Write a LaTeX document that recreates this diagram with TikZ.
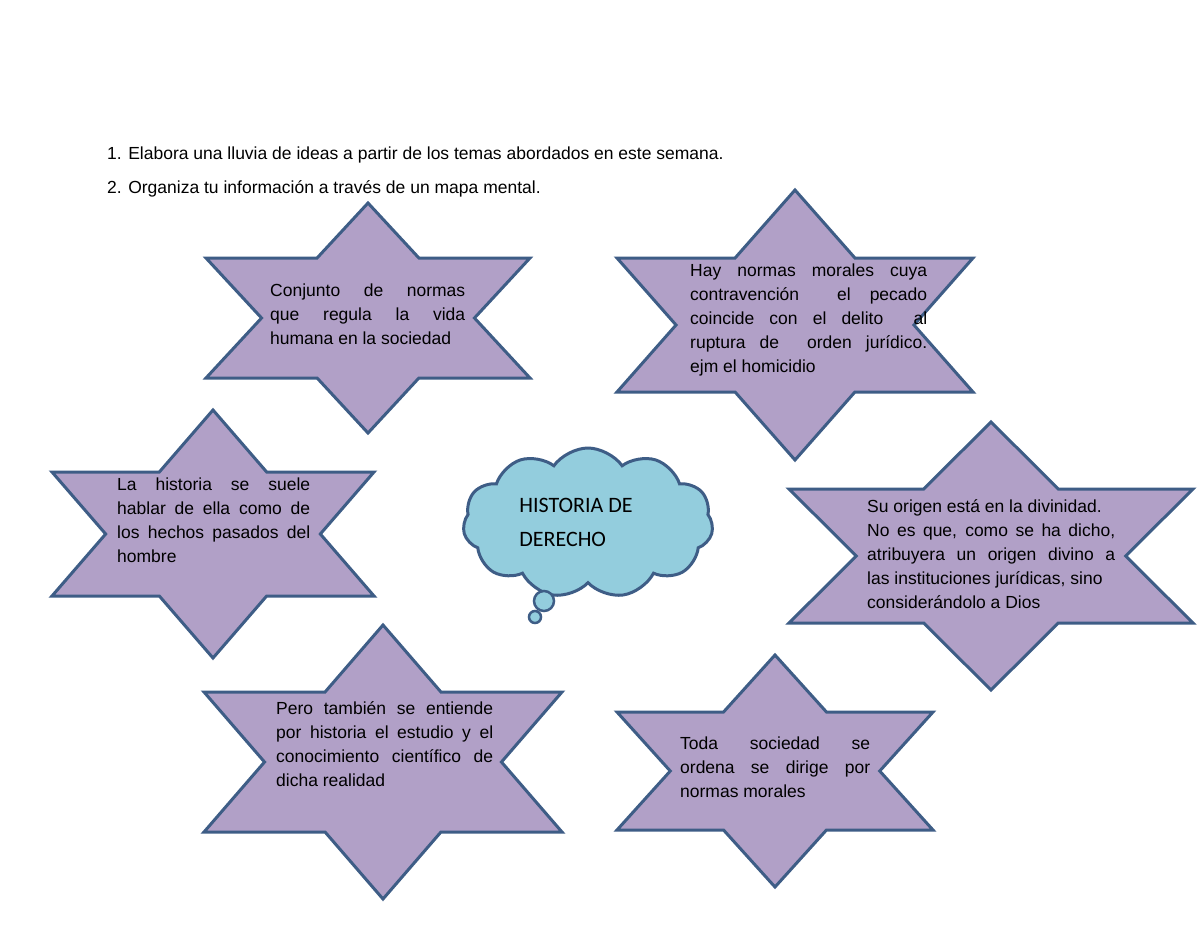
\documentclass[tikz,border=0pt]{standalone}
\usepackage{fontspec}
\setmainfont{Liberation Sans}
\newfontfamily\calib{Carlito}
\usetikzlibrary{shapes.symbols}
\definecolor{starfill}{HTML}{B1A0C7}
\definecolor{starline}{HTML}{3E5D86}
\definecolor{cloudfill}{HTML}{93CDDD}
\newcommand{\hstar}[6]{%
\pgfmathsetmacro\xi{#4/(#5+#6)*(#5-#6)}%
\pgfmathsetmacro\xs{#4/(#5+#6)*#5}%
\draw[star] (#2,#3-#5) coordinate (#1-t) -- (#2+\xi,#3-#6) -- (#2+#4,#3-#6) -- (#2+\xs,#3) -- (#2+#4,#3+#6)
 -- (#2+\xi,#3+#6) -- (#2,#3+#5) -- (#2-\xi,#3+#6) -- (#2-#4,#3+#6) -- (#2-\xs,#3) -- (#2-#4,#3-#6) -- (#2-\xi,#3-#6) -- cycle;}
\begin{document}
\begin{tikzpicture}[x=1pt,y=-1pt,
 star/.style={fill=starfill,draw=starline,line width=3pt,line join=miter},
 txt/.style={anchor=north west,align=justify,inner sep=0pt,font=\fontsize{17.5}{24}\selectfont}]
\useasboundingbox[fill=white] (0,0) rectangle (1200,927);
\node[anchor=west,inner sep=0pt,font=\fontsize{17.5}{18}\selectfont] (h1) at (107,155) {1. Elabora una lluvia de ideas a partir de los temas abordados en este semana.};
\node[anchor=west,inner sep=0pt,font=\fontsize{17.5}{18}\selectfont] (h2) at (107,189) {2. Organiza tu información a través de un mapa mental.};
\hstar{s1}{368}{318}{162}{115}{60}
\hstar{s2}{795}{325}{178}{135}{67}
\hstar{s3}{213}{534}{161}{124}{62}
\hstar{s4}{991}{556}{202}{134}{67}
\hstar{s5}{383}{762}{179}{137}{70}
\hstar{s6}{775}{771}{158}{116}{59}
\node[txt,text width=195pt] (t1) at (270,284) {Conjunto de normas\linebreak que regula la vida\linebreak humana en la sociedad};
\node[txt,text width=237pt] (t2) at (690,264) {Hay normas morales cuya\linebreak contravención\ \ el pecado\linebreak coincide con el delito\ \ al\linebreak ruptura de\ \ orden jurídico.\linebreak ejm el homicidio};
\node[txt,text width=193pt] (t3) at (117,478) {La historia se suele\linebreak hablar de ella como de\linebreak los hechos pasados del\linebreak hombre};
\node[txt,text width=248pt] (t4) at (867,499) {Su origen está en la divinidad.\\ No es que, como se ha dicho,\linebreak atribuyera un origen divino a\linebreak las instituciones jurídicas, sino\\ considerándolo a Dios};
\node[txt,text width=217pt] (t5) at (276,701) {Pero también se entiende\linebreak por historia el estudio y el\linebreak conocimiento científico de\linebreak dicha realidad};
\node[txt,text width=190pt] (t6) at (680,737) {Toda sociedad se\linebreak ordena se dirige por\linebreak normas morales};
\node[cloud,cloud puffs=11,cloud puff arc=110,aspect=1.8,minimum width=250pt,minimum height=150pt,fill=cloudfill,draw=starline,line width=3pt] (c) at (588,523) {};
\node[circle,minimum size=20pt,fill=cloudfill,draw=starline,line width=2.5pt] (b1) at (544,601) {};
\node[circle,minimum size=12pt,fill=cloudfill,draw=starline,line width=2.5pt] (b2) at (535,617) {};
\node[align=left,inner sep=0pt,font=\calib\fontsize{22}{34}\selectfont] (ct) at (576,522) {HISTORIA DE\\DERECHO};
\end{tikzpicture}
\end{document}
